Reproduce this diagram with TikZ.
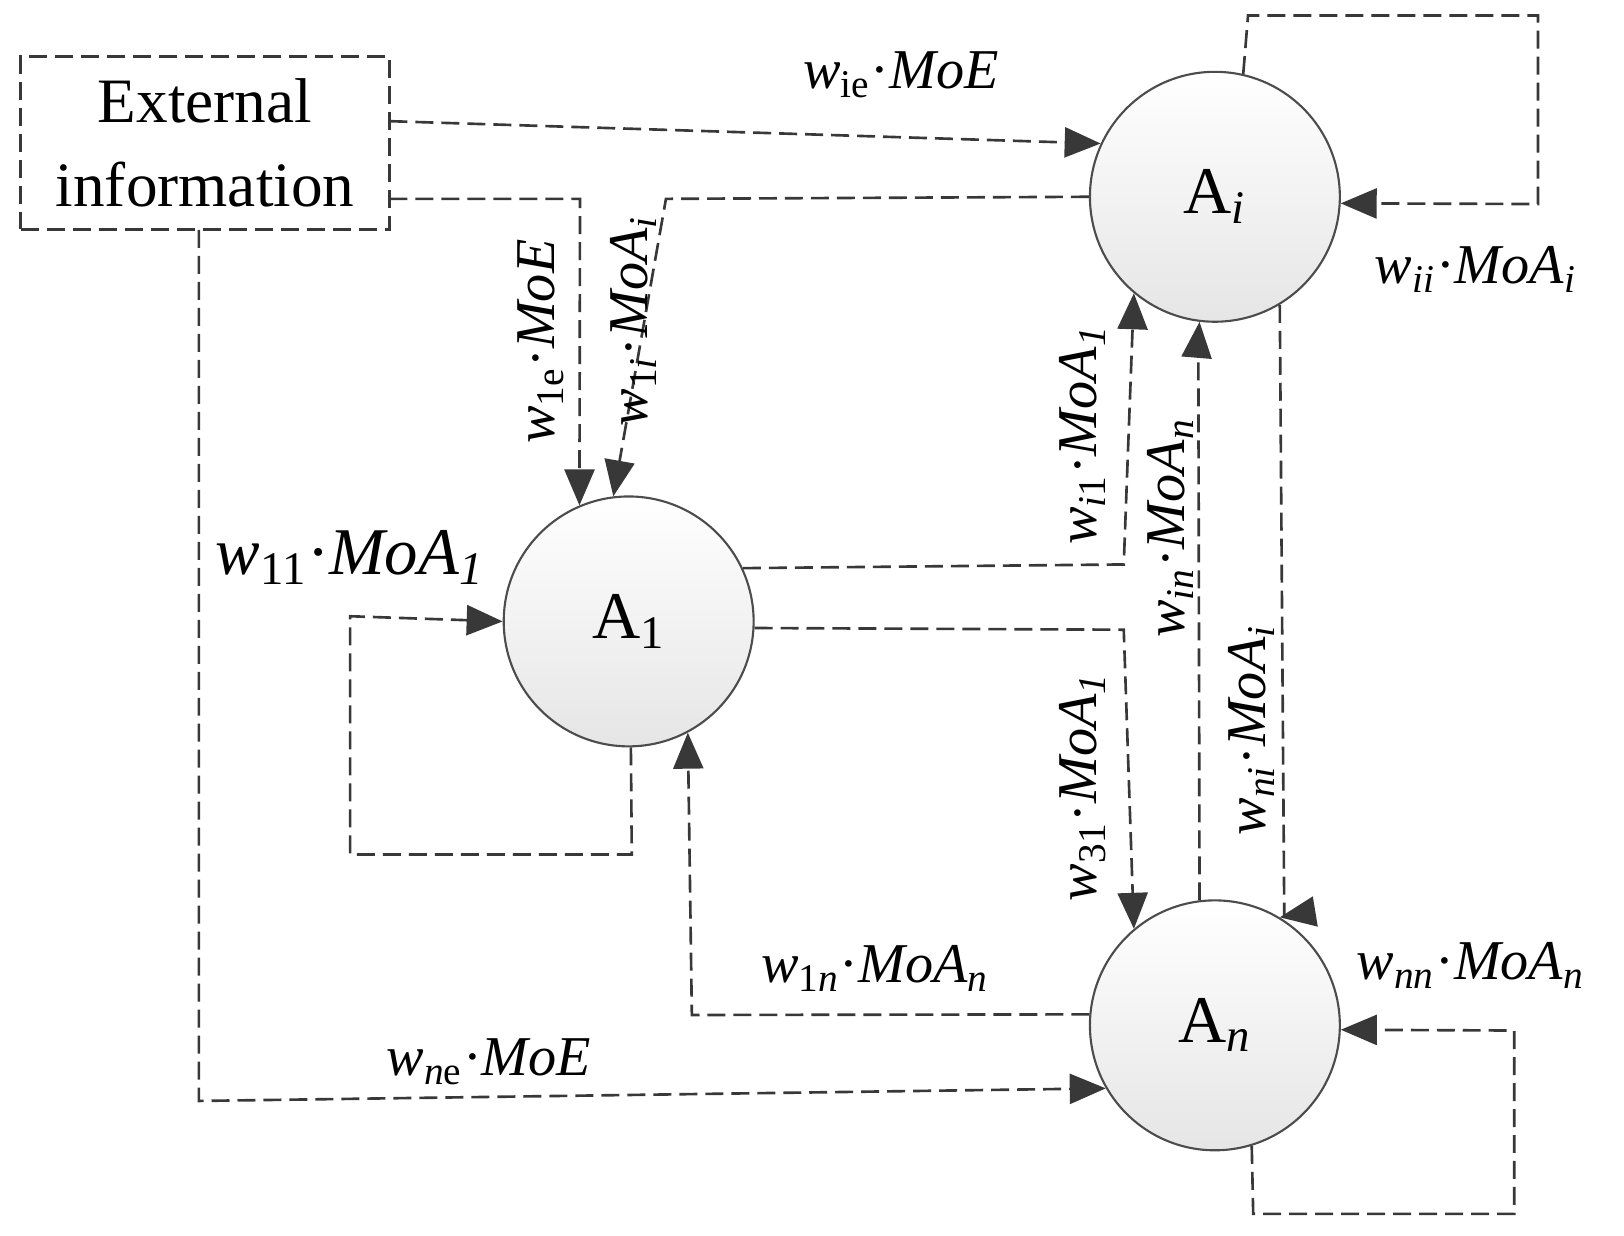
\documentclass[tikz,border=0pt]{standalone}
\usepackage{fontspec}
\setmainfont{Liberation Serif}
\usetikzlibrary{arrows.meta}
\newcommand{\wl}[2]{\textit{w}\textsubscript{#1}·\textit{#2}}
\begin{document}
\begin{tikzpicture}[x=0.01036cm,y=-0.01036cm,
  ag/.style={circle,draw=black!70,line width=0.6pt,minimum size=2.5cm,inner sep=0pt,top color=white,bottom color=black!10,font=\fontsize{19}{22}\selectfont},
  ln/.style={draw=black!78,line width=0.75pt,dash pattern=on 0.18cm off 0.08cm},
  ar/.style={ln,-{Triangle[length=0.36cm,width=0.3cm]}},
  lb/.style={font=\fontsize{16}{19}\selectfont,inner sep=1pt}]
\useasboundingbox (0,0) rectangle (1568,1193);
\node[ln,minimum width=356*0.01036cm,minimum height=167*0.01036cm,align=center,font=\fontsize{18}{24}\selectfont] (ext) at (198,138) {External\\information};
\node[ag] (ai) at (1173,190) {A\textsubscript{\textit{i}}};
\node[ag] (a1) at (607,600) {A\textsubscript{1}};
\node[ag] (an) at (1173,990) {A\textsubscript{\textit{n}}};
\coordinate (e1) at (376,117); \coordinate (e2) at (376,192); \coordinate (e3) at (192,222);
\draw[ar] (e1) -- (ai.{180-25});
\draw[ar] (e2) -- (560,192) -- (a1.{90+23});
\draw[ar] (ai.180) -- (643,192) -- (a1.{90+7});
\draw[ar] (e3) -- (192,1063) -- (an.{180+30});
\draw[ar] (a1.{-90+1}) -- (610,825) -- (338,825) -- (338,595) -- (a1.180);
\draw[ar] (a1.{25}) -- (1085,545) -- (ai.{-90-40});
\draw[ar] (a1.{-3}) -- (1085,608) -- (an.{90+40});
\draw[ar] (an.{90+7}) -- (1157,325) -- (ai.{-90-7});
\draw[ar] (ai.{-90+31}) -- (1240,885) -- (an.{90-31});
\draw[ar] (an.{180-5}) -- (668,980) -- (a1.{-90+28});
\draw[ar] (ai.{90-13}) -- (1205,15) -- (1485,15) -- (1485,197) -- (ai.{-3});
\draw[ar] (an.{-90+17}) -- (1210,1172) -- (1462,1172) -- (1462,995) -- (an.{-2});
\node[lb] (l1) at (870,72) {\wl{ie}{MoE}};
\node[lb,rotate=90] (l2) at (522,330) {\wl{1e}{MoE}};
\node[lb,rotate=90] (l3) at (612,310) {\wl{1\textit{i}}{MoA\textsubscript{\textit{i}}}};
\node[lb] (l4) at (472,1025) {\wl{\textit{n}e}{MoE}};
\node[lb,font=\fontsize{19}{22}\selectfont] (l5) at (338,538) {\wl{11}{MoA\textsubscript{1}}};
\node[lb,rotate=90] (l6) at (1045,420) {\wl{\textit{i}1}{MoA\textsubscript{1}}};
\node[lb,rotate=90] (l7) at (1045,760) {\wl{31}{MoA\textsubscript{1}}};
\node[lb,rotate=90] (l8) at (1130,510) {\wl{\textit{in}}{MoA\textsubscript{\textit{n}}}};
\node[lb,rotate=90] (l9) at (1208,705) {\wl{\textit{ni}}{MoA\textsubscript{\textit{i}}}};
\node[lb] (l10) at (845,935) {\wl{1\textit{n}}{MoA\textsubscript{\textit{n}}}};
\node[lb] (l11) at (1425,260) {\wl{\textit{ii}}{MoA\textsubscript{\textit{i}}}};
\node[lb] (l12) at (1420,932) {\wl{\textit{nn}}{MoA\textsubscript{\textit{n}}}};
\end{tikzpicture}
\end{document}
